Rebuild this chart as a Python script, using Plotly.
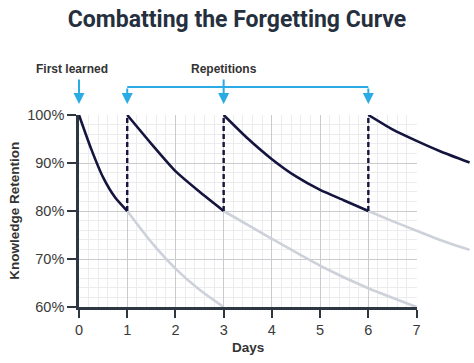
import plotly.graph_objects as go

# ---- data ----
first_x = [0, 0.25, 0.5, 0.75, 1]
first_y = [100, 93.0, 87.0, 82.8, 80]
fade1_x = [1, 1.5, 2, 2.5, 3]
fade1_y = [80, 73.5, 68.0, 63.6, 60]

rep1_x = [1, 1.5, 2, 2.5, 3]
rep1_y = [100, 94.0, 88.3, 84.0, 80]
fade2_x = [3, 4, 5, 6, 7]
fade2_y = [80, 74.2, 68.6, 63.9, 60]

rep2_x = [3, 3.5, 4, 4.5, 5, 5.5, 6]
rep2_y = [100, 95.1, 90.8, 87.2, 84.4, 82.2, 80]
fade3_x = [6, 6.5, 7, 7.5, 8.1]
fade3_y = [80, 77.9, 75.9, 73.9, 71.9]

rep3_x = [6, 6.5, 7, 7.5, 8.1]
rep3_y = [100, 97.0, 94.6, 92.4, 90.1]

rep_days = [1, 3, 6]
rep_low = [80, 80, 80]
rep_high = [100, 100, 100]

x_ticks = [0, 1, 2, 3, 4, 5, 6, 7]
y_ticks = [60, 70, 80, 90, 100]
y_tick_labels = ["60%", "70%", "80%", "90%", "100%"]

# ---- style ----
NAVY = "#14143f"
FADE = "#cdd1da"
BLUE = "#2aabe3"
AXIS = "#2c3742"
TXT = "#3a3a3a"
W, H = 474, 363
ML, MR, MT, MB = 79, 0, 115, 56
PLOT_H = H - MT - MB
PX_PER_DAY = 341 / 7
X_MAX = (W - ML - MR) / PX_PER_DAY
GRID_DOMAIN = 7 / X_MAX
Y_MIN, Y_MAX = 60, 100


def ypaper_px(py):
    # convert a pixel row (from top) into paper coordinate
    return (H - MB - py) / PLOT_H


fig = go.Figure()

line_sets = [
    (fade1_x, fade1_y, FADE), (fade2_x, fade2_y, FADE), (fade3_x, fade3_y, FADE),
    (first_x, first_y, NAVY), (rep1_x, rep1_y, NAVY), (rep2_x, rep2_y, NAVY), (rep3_x, rep3_y, NAVY),
]
for xs, ys, c in line_sets:
    fig.add_trace(go.Scatter(x=xs, y=ys, mode="lines", xaxis="x2", yaxis="y2",
                             line=dict(color=c, width=2.6, shape="spline", smoothing=0.6),
                             hoverinfo="skip", showlegend=False))

vx, vy = [], []
for d, lo, hi in zip(rep_days, rep_low, rep_high):
    vx += [d, d, None]
    vy += [lo, hi, None]
fig.add_trace(go.Scatter(x=vx, y=vy, mode="lines", xaxis="x2", yaxis="y2",
                         line=dict(color=NAVY, width=2.4, dash="5px,3px"),
                         hoverinfo="skip", showlegend=False))

tickfont = dict(family="Liberation Sans", size=14.5, color=TXT)
fig.update_layout(
    width=W, height=H,
    margin=dict(l=ML, r=MR, t=MT, b=MB),
    paper_bgcolor="white", plot_bgcolor="rgba(0,0,0,0)",
    showlegend=False,
    title=dict(text="Combatting the Forgetting Curve", x=0.5, xref="container", xanchor="center",
               y=1 - 19 / H, yref="container", yanchor="middle",
               font=dict(family="Roboto", size=23, color="#252f3e", weight=700)),
    xaxis=dict(domain=[0, GRID_DOMAIN], range=[0, 7], tickvals=x_ticks, ticktext=[str(t) for t in x_ticks],
               showgrid=True, gridcolor="#cbcbcf", gridwidth=1,
               minor=dict(dtick=0.2, tick0=0, showgrid=True, gridcolor="#ececee", gridwidth=1),
               showline=True, linecolor=AXIS, linewidth=2.6, ticks="outside", ticklen=8,
               tickwidth=2.4, tickcolor=AXIS, zeroline=False, tickfont=tickfont, fixedrange=True),
    yaxis=dict(domain=[0, 1], range=[Y_MIN, Y_MAX], tickvals=y_ticks, ticktext=y_tick_labels,
               showgrid=True, gridcolor="#cbcbcf", gridwidth=1,
               minor=dict(dtick=2, tick0=60, showgrid=True, gridcolor="#ececee", gridwidth=1),
               showline=True, linecolor=AXIS, linewidth=2.6, ticks="outside", ticklen=9,
               tickwidth=2.4, tickcolor=AXIS, zeroline=False, tickfont=tickfont, fixedrange=True),
    xaxis2=dict(domain=[0, 1], range=[0, X_MAX], visible=False, anchor="y2", fixedrange=True),
    yaxis2=dict(domain=[0, 1], range=[Y_MIN, Y_MAX], visible=False, anchor="x2", fixedrange=True),
)

lab_font = dict(family="Liberation Sans", size=13.5, color="#333333")
# axis titles
fig.add_annotation(text="<b>Days</b>", x=3.5, xref="x", y=ypaper_px(347), yref="paper",
                   xanchor="center", yanchor="middle", showarrow=False, font=lab_font)
fig.add_annotation(text="<b>Knowledge Retention</b>", x=(13 - ML) / (W - ML - MR), xref="paper",
                   y=0.5, yref="paper", textangle=-90, xanchor="center", yanchor="middle",
                   showarrow=False, font=lab_font)

# labels above
top_font = dict(family="Liberation Sans", size=12, color="#333333")
label_y = ypaper_px(69)
fig.add_annotation(text="<b>First learned</b>", x=0, xref="x", y=label_y, yref="paper", xshift=-7,
                   xanchor="center", yanchor="middle", showarrow=False, font=top_font)
fig.add_annotation(text="<b>Repetitions</b>", x=rep_days[1], xref="x", y=label_y, yref="paper",
                   xanchor="center", yanchor="middle", showarrow=False, font=top_font)

tip_y = ypaper_px(104)
bracket_y = ypaper_px(87)
# arrows
for d, tail in [(0, 26), (rep_days[0], 17), (rep_days[1], 26), (rep_days[2], 17)]:
    fig.add_annotation(text="", x=d, xref="x", y=tip_y, yref="paper", ax=0, ay=-tail,
                       showarrow=True, arrowhead=2, arrowsize=1.1, arrowwidth=2,
                       arrowcolor=BLUE, standoff=0)
fig.add_shape(type="line", xref="x", yref="paper", x0=rep_days[0], x1=rep_days[-1],
              y0=bracket_y, y1=bracket_y, line=dict(color=BLUE, width=2))

fig.write_html("out.html", config={"displayModeBar": False},
               post_script="document.body.style.margin='0px';")
